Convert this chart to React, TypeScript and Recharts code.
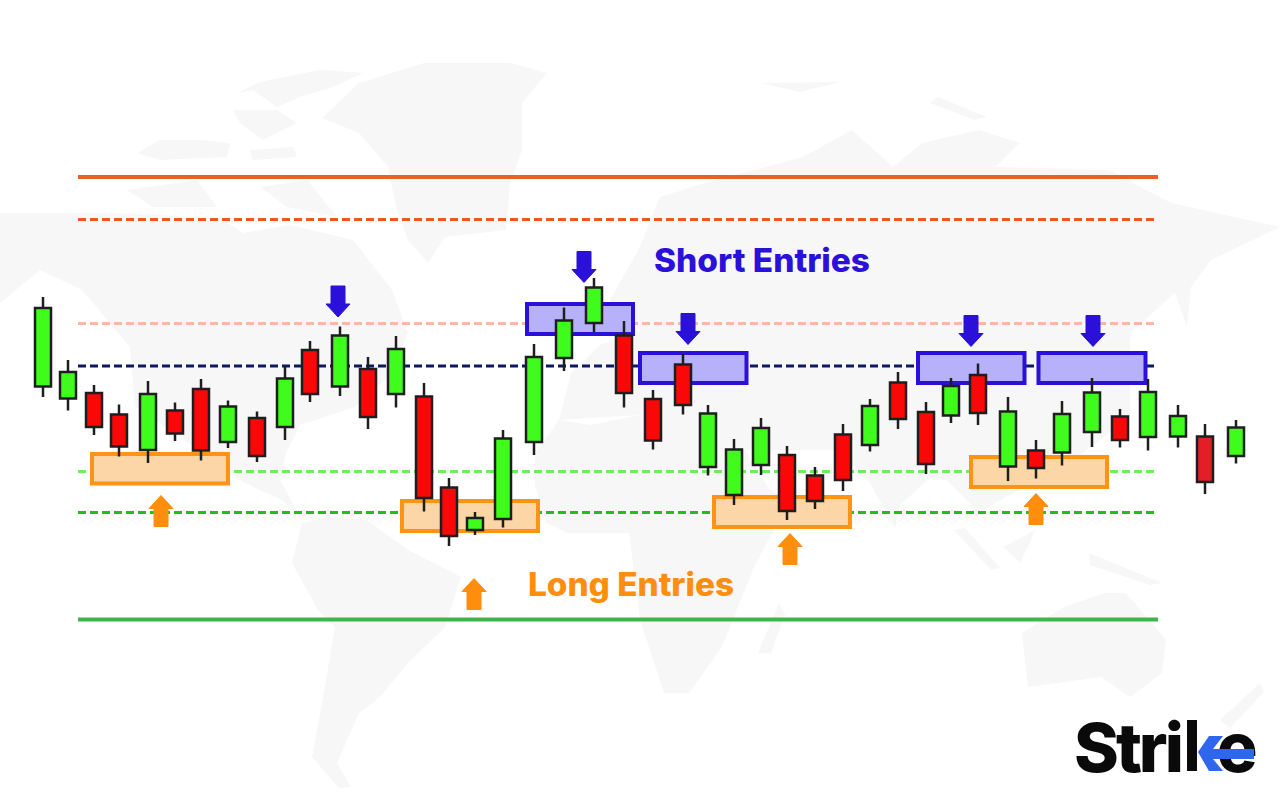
import { Bar, ComposedChart, ReferenceArea, ReferenceDot, ReferenceLine, XAxis, YAxis } from "recharts";

const sessions = [4.4, 6.9, 9.5, 12.0, 14.9, 17.6, 20.2, 22.9, 25.8, 28.6, 31.1, 34.1, 36.9, 39.7, 42.5, 45.0, 47.6, 50.4, 53.5, 56.5, 59.5, 62.5, 65.4, 68.4, 70.9, 73.5, 76.2, 78.8, 81.6, 84.4, 87.1, 89.9, 92.7, 95.2, 97.9, 100.9, 103.7, 106.3, 109.3, 112.1, 114.9, 117.9, 120.6, 123.7];
const opens = [82.7, 80.3, 81.4, 77.1, 70, 77.9, 82.2, 71.6, 76.4, 74.6, 90, 82.7, 86.2, 81.2, 80.7, 62.5, 54, 56.2, 71.6, 88.4, 95.4, 92.9, 80.2, 87.1, 66.6, 61, 67, 69, 64.9, 73.1, 71, 83.5, 77.6, 76.9, 85, 66.7, 69.9, 69.5, 73.6, 76.7, 72.6, 72.7, 72.7, 68.8];
const closes = [98.4, 85.6, 74.6, 70.7, 81.2, 73.3, 69.9, 78.7, 68.8, 84.3, 81.2, 92.9, 76.6, 90.2, 60.4, 52.8, 56.4, 72.3, 88.6, 95.9, 102.5, 81.4, 71.9, 79, 77.3, 70.1, 74.4, 57.8, 59.8, 64, 78.8, 76.2, 67.2, 82.8, 77.4, 77.7, 66.4, 77.2, 81.5, 72, 81.6, 76.8, 63.6, 74.5];
const highs = [100.6, 88, 83, 79.1, 83.8, 79.5, 84.2, 79.9, 77.7, 86.8, 91.8, 94.7, 88.6, 92.8, 83.4, 64.4, 57.6, 74, 91.2, 98.5, 104.4, 95.8, 82, 89.2, 79, 72.2, 76.4, 70.8, 66.6, 75.2, 80.2, 85.6, 79.6, 84.4, 87.3, 80.6, 72, 79.8, 84.4, 78.2, 84.2, 79, 75.2, 76];
const lows = [80.6, 77.9, 73, 68.7, 67.4, 71.8, 67.9, 70.4, 67.6, 72, 79.6, 80.8, 74.2, 78.5, 57.7, 50.8, 53, 54.5, 69, 85.8, 93.6, 78.5, 70.1, 77.1, 64.9, 59, 65, 56, 58.2, 61.8, 69.7, 74.2, 65.2, 75.4, 75, 63.8, 64.3, 66.9, 70.6, 70.5, 69.9, 70.5, 61.2, 67.3];

const shortArrowSessions = [33.8, 58.4, 68.8, 97.1, 109.3];
const shortArrowPrices = [96.6, 103.5, 91.1, 90.7, 90.7];
const longArrowSessions = [16.1, 47.4, 79.0, 103.6];
const longArrowPrices = [60.9, 44.3, 53.3, 61.3];

// [from, to, low, high]
const longZones = [
  [9.2, 22.8, 63.3, 69.2],
  [40.2, 53.8, 53.8, 59.8],
  [71.4, 85.0, 54.6, 60.6],
  [97.1, 110.7, 62.6, 68.6],
];
const shortZones = [
  [52.7, 63.3, 93.2, 99.2],
  [64.0, 74.65, 83.4, 89.4],
  [91.8, 102.45, 83.4, 89.4],
  [103.85, 114.55, 83.4, 89.4],
];

const levelStart = 7.8;
const levelEnd = 115.8;
const dimmedCandle = 120.6;

const candles = sessions.map((session, i) => ({
  session,
  open: opens[i],
  close: closes[i],
  high: highs[i],
  low: lows[i],
}));

const BLUE = "#2A10D8";
const ORANGE = "#FF8E0E";
const LINE_LAYER = 50; // keeps the levels under the zones

function Candle(props: any) {
  const { x, y, width, height, payload } = props;
  const unit = height / (payload.high - payload.low);
  const top = y + (payload.high - Math.max(payload.open, payload.close)) * unit;
  const bottom = y + (payload.high - Math.min(payload.open, payload.close)) * unit;
  const mid = x + width / 2 - 1.5;
  const up = payload.close > payload.open;
  const fill = up ? "#40FC1C" : payload.session === dimmedCandle ? "#E31E26" : "#FA0808";
  return (
    <g>
      <line x1={mid} x2={mid} y1={y} y2={y + height} stroke="#1E1E1E" strokeWidth={2.5} />
      <rect x={mid - 8} y={top} width={16} height={bottom - top} fill={fill} stroke="#1E1E1E" strokeWidth={2.5} />
    </g>
  );
}

function DownArrow({ cx, cy }: any) {
  const d = `M${cx} ${cy}l-12 -13h5v-18h14v18h5z`;
  return <path d={d} fill={BLUE} stroke={BLUE} strokeWidth={1} strokeLinejoin="round" />;
}

function UpArrow({ cx, cy }: any) {
  const d = `M${cx} ${cy}l12 13h-5v18h-14v-18h-5z`;
  return <path d={d} fill={ORANGE} stroke={ORANGE} strokeWidth={1} strokeLinejoin="round" />;
}

function Caption({ cx, cy, text, fill, length }: any) {
  return (
    <text x={cx} y={cy} fill={fill} fontFamily="Inter" fontWeight={800} fontSize={32} textLength={length} lengthAdjust="spacingAndGlyphs">
      {text}
    </text>
  );
}

function Logo({ cx, cy }: any) {
  return (
    <g>
      <text x={cx} y={cy} fill="#0A0A0A" fontFamily="Inter" fontWeight={800} fontSize={68} letterSpacing={-3}>
        Stri<tspan fill="none">k</tspan>e
      </text>
      <rect x={1187} y={720} width={10} height={51} fill="#0A0A0A" />
      <path d="M1198 752L1209 736H1223L1213 749H1254V759H1213L1223 771H1209Z" fill="#2F66F0" />
    </g>
  );
}

// faint world map behind the chart
const mapShapes = [
  // greenland
  "M322 118L359 83L424 63L510 63L547 73L522 103L522 150L510 183L506 230L445 237L428 263L408 240L396 207L388 167L359 133Z",
  // arctic islands
  "M237 93L260 82L320 70L363 73L333 87L300 97L277 107L253 90Z",
  "M233 110L277 110L297 123L263 140L240 123Z",
  "M137 153L160 140L203 140L230 143L227 157L160 160Z",
  "M250 150L293 147L297 157L253 160Z",
  "M127 190L197 180L217 207L153 207Z",
  "M260 187L307 180L337 217L287 207Z",
  // north america
  "M0 213L120 213L220 218L243 233L290 225L353 240L392 290L408 333L392 373L355 407L300 425L286 453L280 480L302 520L282 500L245 483L184 440L135 407L130 347L82 290L40 270L0 303Z",
  // south america
  "M302 523L292 563L318 610L335 627L322 703L312 757L339 788L351 787L337 763L347 740L359 713L380 697L408 663L445 627L461 577L408 550L367 520L327 517Z",
  // africa
  "M535 487L547 523L567 533L629 533L640 620L664 693L689 693L722 647L738 607L754 567L790 500L770 490L745 450L700 430L640 415L590 425L559 420L535 453Z",
  "M779 603L758 653L771 653L785 615Z",
  // eurasia
  "M559 420L571 373L600 345L640 330L610 300L640 247L660 197L705 183L803 157L852 130L893 167L922 143L979 130L1020 143L995 167L1109 170L1171 203L1280 227L1211 260L1191 287L1187 327L1175 293L1130 333L1130 417L1100 440L1060 470L1000 500L980 513L947 480L930 478L900 505L895 527L868 480L840 450L790 450L745 450L700 430L640 415Z",
  // australia and islands
  "M1022 633L1064 607L1105 593L1126 593L1166 640L1162 673L1130 697L1101 677L1028 687Z",
  "M954 530L991 570L1000 568L965 528Z",
  "M1003 547L1036 530L1020 563Z",
  "M1089 553L1162 583L1150 585L1090 565Z",
  "M1220 720L1260 683L1264 692L1230 728Z",
  "M938 97L987 117L975 120L930 103Z",
  "M762 83L840 82L800 92Z",
];

function WorldMap() {
  return (
    <svg width={1280} height={800} style={{ position: "absolute", left: 0, top: 0 }}>
      {mapShapes.map((d, i) => (
        <path key={i} d={d} fill="#F7F7F8" />
      ))}
    </svg>
  );
}

export default function App() {
  return (
    <div style={{ position: "absolute", left: 0, top: 0, width: 1280, height: 800, background: "#FFFFFF" }}>
      <WorldMap />
      <div style={{ position: "absolute", left: 0, top: 0 }}>
        <ComposedChart width={1280} height={800} data={candles} margin={{ top: 0, right: 0, bottom: 0, left: 0 }}>
          <XAxis dataKey="session" type="number" domain={[0, 128]} hide />
          <YAxis type="number" domain={[0, 160]} hide />

          <ReferenceLine zIndex={LINE_LAYER} segment={[{ x: levelStart, y: 124.6 }, { x: levelEnd, y: 124.6 }]} stroke="#E8602B" strokeWidth={4} />
          <ReferenceLine zIndex={LINE_LAYER} segment={[{ x: levelStart, y: 116.1 }, { x: levelEnd, y: 116.1 }]} stroke="#EA5A1E" strokeWidth={3} strokeDasharray="8 4" />
          <ReferenceLine zIndex={LINE_LAYER} segment={[{ x: levelStart, y: 95.3 }, { x: levelEnd, y: 95.3 }]} stroke="#F9B8A2" strokeWidth={3} strokeDasharray="8 4" />
          <ReferenceLine zIndex={LINE_LAYER} segment={[{ x: levelStart, y: 86.8 }, { x: levelEnd, y: 86.8 }]} stroke="#0B1A5E" strokeWidth={3} strokeDasharray="8 4" />
          <ReferenceLine zIndex={LINE_LAYER} segment={[{ x: levelStart, y: 65.7 }, { x: levelEnd, y: 65.7 }]} stroke="#6CEE5C" strokeWidth={3} strokeDasharray="8 4" />
          <ReferenceLine zIndex={LINE_LAYER} segment={[{ x: levelStart, y: 57.5 }, { x: levelEnd, y: 57.5 }]} stroke="#22C016" strokeWidth={3} strokeDasharray="8 4" />
          <ReferenceLine zIndex={LINE_LAYER} segment={[{ x: levelStart, y: 36.1 }, { x: levelEnd, y: 36.1 }]} stroke="#3DB54A" strokeWidth={4} />

          {longZones.map(([x1, x2, y1, y2]) => (
            <ReferenceArea key={x1} x1={x1} x2={x2} y1={y1} y2={y2} fill="#FDD6A8" fillOpacity={1} stroke="#FF9414" strokeWidth={4} strokeOpacity={1} />
          ))}
          {shortZones.map(([x1, x2, y1, y2]) => (
            <ReferenceArea key={x1} x1={x1} x2={x2} y1={y1} y2={y2} fill="#B7B1FB" fillOpacity={1} stroke={BLUE} strokeWidth={4} strokeOpacity={1} />
          ))}

          <Bar dataKey={(d: any) => [d.low, d.high]} barSize={18} shape={<Candle />} isAnimationActive={false} />

          {shortArrowSessions.map((s, i) => (
            <ReferenceDot key={s} x={s} y={shortArrowPrices[i]} shape={(p: any) => <DownArrow {...p} />} />
          ))}
          {longArrowSessions.map((s, i) => (
            <ReferenceDot key={s} x={s} y={longArrowPrices[i]} shape={(p: any) => <UpArrow {...p} />} />
          ))}

          <ReferenceDot x={65.4} y={105.7} shape={(p: any) => <Caption {...p} text="Short Entries" fill={BLUE} length={216} />} />
          <ReferenceDot x={52.8} y={40.8} shape={(p: any) => <Caption {...p} text="Long Entries" fill={ORANGE} length={206} />} />
          <ReferenceDot x={107.4} y={5.7} shape={(p: any) => <Logo {...p} />} />
        </ComposedChart>
      </div>
    </div>
  );
}
